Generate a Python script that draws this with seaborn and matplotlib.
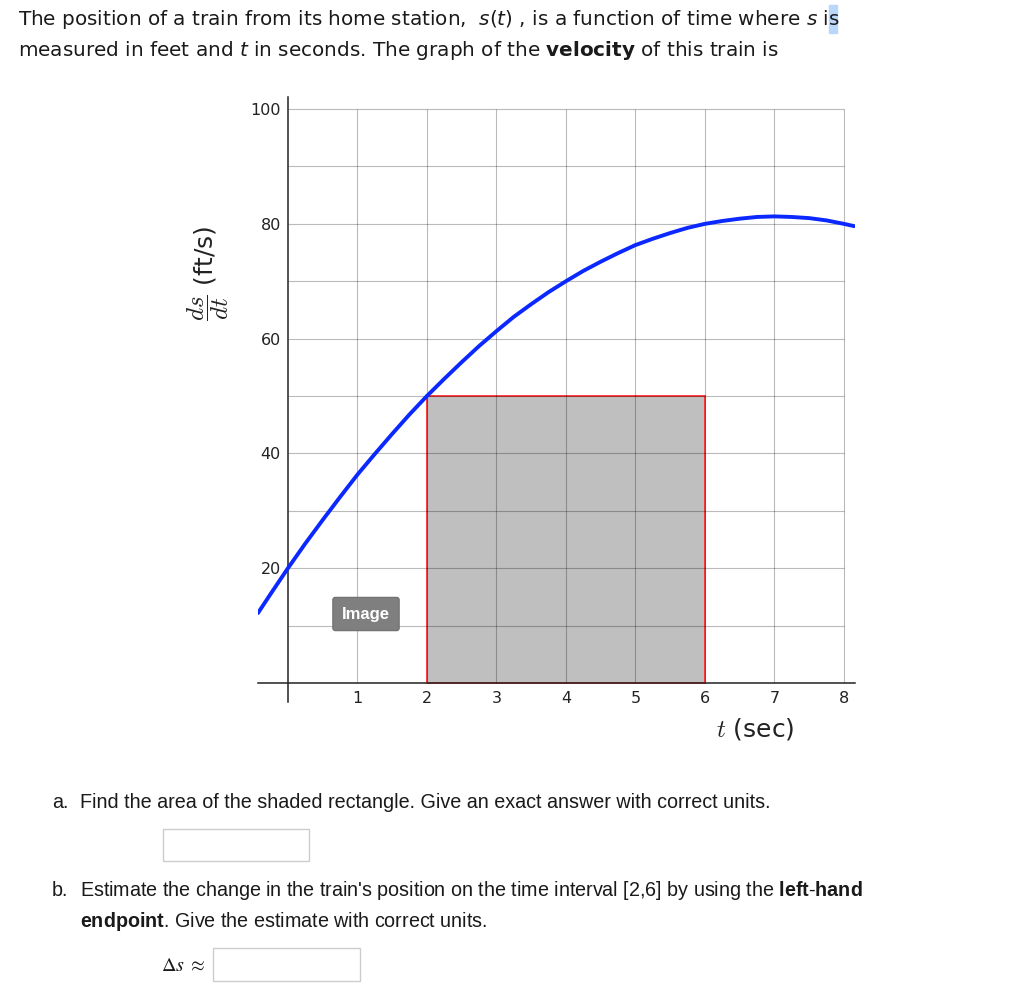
import numpy as np
import seaborn as sns
import matplotlib
matplotlib.use("Agg")
import matplotlib.pyplot as plt
from matplotlib.patches import Rectangle

# velocity curve (t in sec, v in ft/s)
t_vals = [-0.43, -0.25, 0.0, 0.25, 0.5, 0.75, 1.0, 1.25, 1.5, 1.75, 2.0,
          2.25, 2.5, 2.75, 3.0, 3.25, 3.5, 3.75, 4.0, 4.25, 4.5, 4.75,
          5.0, 5.25, 5.5, 5.75, 6.0, 6.25, 6.5, 6.75, 7.0, 7.25, 7.5,
          7.75, 8.0, 8.15]
v_vals = [12.2, 15.5, 20.0, 24.3, 28.4, 32.4, 36.3, 39.9, 43.4, 46.8, 50.0,
          53.0, 55.9, 58.7, 61.3, 63.8, 66.0, 68.1, 70.0, 71.8, 73.4, 74.9,
          76.3, 77.4, 78.4, 79.3, 80.0, 80.5, 80.9, 81.2, 81.3, 81.2, 81.0,
          80.6, 80.0, 79.6]

# shaded rectangle (left-hand endpoint)
rect_left = 2
rect_right = 6
rect_height = 50

x_ticks = [1, 2, 3, 4, 5, 6, 7, 8]
y_ticks = [20, 40, 60, 80, 100]

W, H = 1024, 1001


def fx(x):
    return x / W


def fy(y):
    return 1 - y / H


sns.set_style("white")
plt.rcParams["font.family"] = ["DejaVu Sans"]
plt.rcParams["mathtext.fontset"] = "custom"
plt.rcParams["mathtext.rm"] = "Liberation Sans"
plt.rcParams["mathtext.it"] = "Liberation Sans:italic"
plt.rcParams["mathtext.bf"] = "Liberation Sans:bold"

fig = plt.figure(figsize=(W / 100, H / 100), dpi=100)
fig.patch.set_facecolor("white")

# axes box: t from -0.43 to 8.16, v from -3.3 to 102.1
ax = fig.add_axes([fx(258), fy(702), fx(855) - fx(258), fy(97) - fy(702)])
ax.set_xlim(-0.43, 8.16)
ax.set_ylim(-3.3, 102.1)
ax.set_facecolor("white")

ax.bar(rect_left, rect_height, width=rect_right - rect_left, align="edge",
       color="#bfbfbf", edgecolor="#ff2020", linewidth=1.2, zorder=1)

ax.vlines(x_ticks, 0, 100, colors="black", alpha=0.27, linewidth=0.8, zorder=1.5)
ax.hlines(np.arange(10, 101, 10), 0, 8, colors="black", alpha=0.27, linewidth=0.8, zorder=1.5)

sns.lineplot(x=t_vals, y=v_vals, color="#0a28ff", linewidth=2.8, ax=ax, zorder=4)

for side in ["top", "right"]:
    ax.spines[side].set_visible(False)
ax.spines["left"].set_position(("data", 0))
ax.spines["bottom"].set_position(("data", 0))
for side in ["left", "bottom"]:
    ax.spines[side].set_linewidth(1.1)
    ax.spines[side].set_color("#222222")
    ax.spines[side].set_zorder(3)

ax.set_xticks(x_ticks)
ax.set_xticks(np.arange(-0.4, 8.01, 0.2), minor=True)
ax.set_yticks(y_ticks)
ax.set_yticks(np.arange(5, 101, 5), minor=True)
ax.tick_params(axis="both", which="both", direction="in", color="#222222", width=0.8)
ax.tick_params(axis="both", which="major", length=6.5, labelsize=11.5, labelcolor="#222222")
ax.tick_params(axis="both", which="minor", length=2.8)
ax.tick_params(axis="x", which="major", pad=6)
ax.tick_params(axis="y", which="major", pad=5)

# axis labels
fig.text(fx(208), fy(273), r"$\dfrac{ds}{dt}$ (ft/s)", rotation=90, fontsize=18,
         ha="center", va="center", color="#222222", math_fontfamily="cm")
fig.text(fx(755), fy(729), r"$t$ (sec)", fontsize=18, ha="center", va="center",
         color="#222222", math_fontfamily="cm")

# "Image" tag
fig.text(fx(366), fy(614), "Image", fontsize=12, family="Liberation Sans", weight="bold",
         color="white", ha="center", va="center",
         bbox=dict(boxstyle="round,pad=0.55,rounding_size=0.15", fc="#7f7f7f", ec="#6c6c6c", lw=0.8))

# selection highlight on the last "i" of line 1
fig.patches.append(Rectangle((fx(829), fy(33)), fx(837) - fx(829), fy(5) - fy(33),
                             transform=fig.transFigure, color="#b9d6fb", zorder=0))

# question text above the chart
top_kw = dict(fontsize=14.4, family="DejaVu Sans", color="#1a1a1a", va="baseline",
              math_fontfamily="dejavusans")
fig.text(fx(18), fy(25), r"The position of a train from its home station,  $s(t)$ , is a function of time where $s$ is", **top_kw)
fig.text(fx(18), fy(56), r"measured in feet and $t$ in seconds. The graph of the $\mathbf{velocity}$ of this train is", **top_kw)

# questions below the chart
low_kw = dict(fontsize=14.2, family="Liberation Sans", color="#1a1a1a", va="baseline")
fig.text(fx(52), fy(808), "a.", **low_kw)
fig.text(fx(80), fy(808), "Find the area of the shaded rectangle. Give an exact answer with correct units.", **low_kw)
fig.text(fx(52), fy(896), "b.", **low_kw)
fig.text(fx(80), fy(896), r"Estimate the change in the train's position on the time interval [2,6] by using the $\mathbf{left}$-$\mathbf{hand}$", **low_kw)
fig.text(fx(80), fy(927), r"$\mathbf{endpoint}$. Give the estimate with correct units.", **low_kw)
fig.text(fx(161), fy(971), r"$\Delta s\;\approx$", fontsize=14.5, color="#1a1a1a", va="baseline",
         math_fontfamily="stix")

# empty answer boxes
for x0, y0, x1, y1 in [(163, 829, 309, 861), (213, 948, 360, 981)]:
    fig.patches.append(Rectangle((fx(x0), fy(y1)), fx(x1) - fx(x0), fy(y0) - fy(y1),
                                 transform=fig.transFigure, fc="white", ec="#cccccc", lw=1))

fig.savefig("out.png", dpi=100)
